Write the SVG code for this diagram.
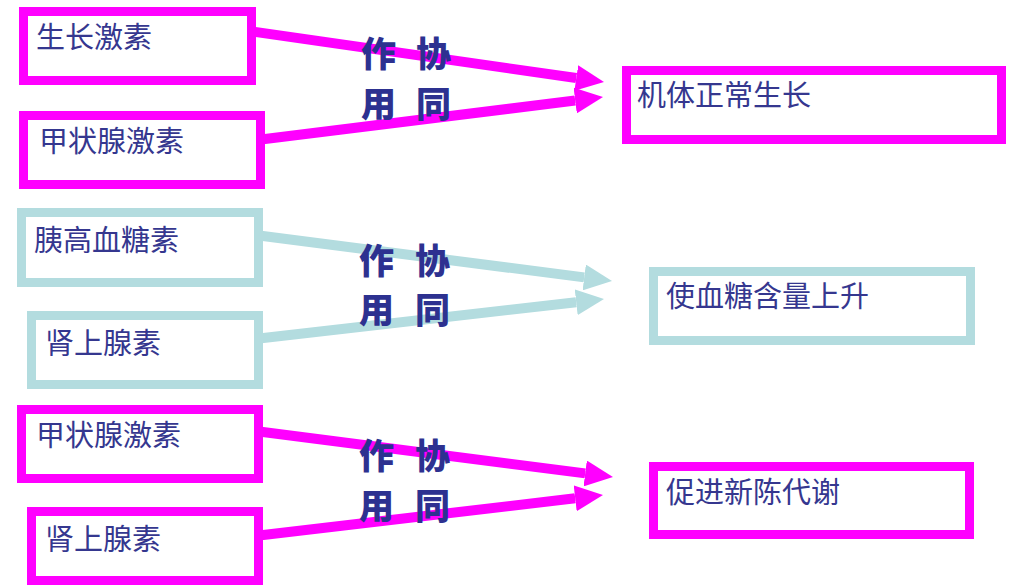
<svg xmlns="http://www.w3.org/2000/svg" width="1015" height="587" viewBox="0 0 1015 587">
<style>
.mg{fill:#ffffff;stroke:#ff00ff;stroke-width:9}
.tl{fill:#ffffff;stroke:#b3dcdf;stroke-width:9}
.lm{stroke:#ff00ff;stroke-width:10;fill:none;marker-end:url(#am)}
.lt{stroke:#b3dcdf;stroke-width:10;fill:none;marker-end:url(#at)}
.t{font-family:"Liberation Sans","Noto Sans CJK SC",sans-serif;font-size:29px;fill:#35378f}
.c{font-family:"Noto Sans CJK SC",sans-serif;font-size:35px;font-weight:900;fill:#2d3190}
</style>
<defs>
<marker id="am" viewBox="0 0 28 26" refX="0" refY="13" markerWidth="28" markerHeight="26" markerUnits="userSpaceOnUse" orient="auto"><path d="M0,0 L28,13 L0,26 z" fill="#ff00ff"/></marker>
<marker id="at" viewBox="0 0 28 26" refX="0" refY="13" markerWidth="28" markerHeight="26" markerUnits="userSpaceOnUse" orient="auto"><path d="M0,0 L28,13 L0,26 z" fill="#b3dcdf"/></marker>
</defs>
<rect width="1015" height="587" fill="#ffffff"/>
<g id="nodes">
<g id="n1"><rect class="mg" x="23.5" y="11.5" width="228" height="69"/><text class="t" x="36" y="48">生长激素</text></g>
<g id="n2"><rect class="mg" x="23.5" y="115.5" width="237" height="69"/><text class="t" x="39" y="152">甲状腺激素</text></g>
<g id="n3"><rect class="mg" x="626.5" y="70.5" width="375" height="69"/><text class="t" x="637" y="106">机体正常生长</text></g>
<g id="n4"><rect class="tl" x="21.5" y="212.5" width="237" height="70"/><text class="t" x="34" y="251">胰高血糖素</text></g>
<g id="n5"><rect class="tl" x="31.5" y="315.5" width="227" height="69"/><text class="t" x="45" y="354">肾上腺素</text></g>
<g id="n6"><rect class="tl" x="653.5" y="271.5" width="317" height="69"/><text class="t" x="666" y="307">使血糖含量上升</text></g>
<g id="n7"><rect class="mg" x="21.5" y="409.5" width="237" height="69"/><text class="t" x="36" y="446">甲状腺激素</text></g>
<g id="n8"><rect class="mg" x="31.5" y="511.5" width="227" height="69"/><text class="t" x="45" y="550">肾上腺素</text></g>
<g id="n9"><rect class="mg" x="653.5" y="466.5" width="316" height="68"/><text class="t" x="666" y="503">促进新陈代谢</text></g>
</g>
<g id="connectors">
<line class="lm" x1="252" y1="31.4" x2="576.3" y2="78"/>
<line class="lm" x1="261" y1="139.5" x2="575.2" y2="100.5"/>
<line class="lt" x1="259" y1="235.5" x2="584.2" y2="277.4"/>
<line class="lt" x1="259" y1="338.5" x2="576.2" y2="302.2"/>
<line class="lm" x1="259" y1="431.5" x2="585.2" y2="473.4"/>
<line class="lm" x1="259" y1="535.5" x2="575.2" y2="498.3"/>
<g id="label1"><text class="c" x="361" y="67">作</text><text class="c" x="416" y="67">协</text><text class="c" x="361" y="117">用</text><text class="c" x="416" y="117">同</text></g>
<g id="label2"><text class="c" x="359" y="274">作</text><text class="c" x="415" y="274">协</text><text class="c" x="359" y="323">用</text><text class="c" x="415" y="323">同</text></g>
<g id="label3"><text class="c" x="359" y="469">作</text><text class="c" x="415" y="469">协</text><text class="c" x="359" y="519">用</text><text class="c" x="415" y="519">同</text></g>
</g>
</svg>
